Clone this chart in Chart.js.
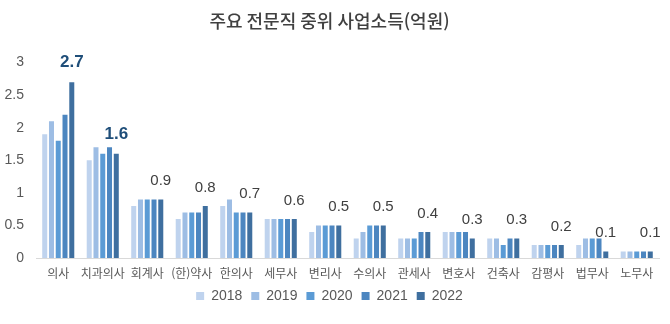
<!DOCTYPE html>
<html lang="ko">
<head>
    <meta charset="UTF-8">
    <title>주요 전문직 중위 사업소득</title>
    <script src="https://cdn.jsdelivr.net/npm/chart.js"></script>
    <style>
        body {
            margin: 0;
            background: #ffffff;
        }
        .wrap {
            width: 670px;
            height: 324px;
        }
    </style>
</head>
<body>
    <div class="wrap"><canvas id="incomeChart" width="670" height="324"></canvas></div>
    <script>
        const jobs = ['의사', '치과의사', '회계사', '(한)약사', '한의사', '세무사', '변리사', '수의사', '관세사', '변호사', '건축사', '감평사', '법무사', '노무사'];
        const years = ['2018', '2019', '2020', '2021', '2022'];
        const y2018 = [1.9, 1.5, 0.8, 0.6, 0.8, 0.6, 0.4, 0.3, 0.3, 0.4, 0.3, 0.2, 0.2, 0.1];
        const y2019 = [2.1, 1.7, 0.9, 0.7, 0.9, 0.6, 0.5, 0.4, 0.3, 0.4, 0.3, 0.2, 0.3, 0.1];
        const y2020 = [1.8, 1.6, 0.9, 0.7, 0.7, 0.6, 0.5, 0.5, 0.3, 0.4, 0.2, 0.2, 0.3, 0.1];
        const y2021 = [2.2, 1.7, 0.9, 0.7, 0.7, 0.6, 0.5, 0.5, 0.4, 0.4, 0.3, 0.2, 0.3, 0.1];
        const y2022 = [2.7, 1.6, 0.9, 0.8, 0.7, 0.6, 0.5, 0.5, 0.4, 0.3, 0.3, 0.2, 0.1, 0.1];
        const yTicks = [0, 0.5, 1, 1.5, 2, 2.5, 3];

        const colors = ['#bfd3ee', '#9dbde4', '#5b9bd5', '#4c86c0', '#3f6f9f'];
        const seriesData = [y2018, y2019, y2020, y2021, y2022];

        const fontFamily = "'Liberation Sans', 'Noto Sans CJK KR', sans-serif";

        // draw the 2022 value above the last bar of each group
        const lastValueLabels = {
            id: 'lastValueLabels',
            afterDatasetsDraw(chart) {
                const c = chart.ctx;
                const meta = chart.getDatasetMeta(4);
                c.save();
                c.textAlign = 'center';
                c.textBaseline = 'bottom';
                meta.data.forEach((bar, i) => {
                    const v = y2022[i];
                    if (i < 2) {
                        c.font = "bold 17px 'Liberation Sans', sans-serif";
                        c.fillStyle = '#1f4e79';
                    } else {
                        c.font = "15px 'Liberation Sans', sans-serif";
                        c.fillStyle = '#404040';
                    }
                    c.fillText(v.toFixed(1), bar.x, bar.y - 11);
                });
                c.restore();
            }
        };

        new Chart(document.getElementById('incomeChart'), {
            type: 'bar',
            data: {
                labels: jobs,
                datasets: years.map((yr, i) => ({
                    label: yr,
                    data: seriesData[i],
                    backgroundColor: colors[i],
                    categoryPercentage: 0.76,
                    barPercentage: 0.74
                }))
            },
            options: {
                responsive: false,
                animation: false,
                layout: {
                    padding: { left: 0, right: 11, top: 0, bottom: 11 }
                },
                plugins: {
                    title: {
                        display: true,
                        text: '주요 전문직 중위 사업소득(억원)',
                        color: '#404040',
                        font: { family: "'Noto Sans CJK KR', sans-serif", size: 18, weight: '500' },
                        padding: { top: 10, bottom: 31 }
                    },
                    legend: {
                        position: 'bottom',
                        labels: {
                            boxWidth: 8,
                            boxHeight: 8,
                            color: '#595959',
                            padding: 9,
                            font: { family: fontFamily, size: 14 }
                        }
                    },
                    tooltip: { enabled: false }
                },
                scales: {
                    x: {
                        grid: { display: false },
                        border: { color: '#d9d9d9' },
                        ticks: {
                            color: '#595959',
                            padding: 1,
                            maxRotation: 0,
                            autoSkip: false,
                            font: { family: "'Noto Sans CJK KR', sans-serif", size: 12, lineHeight: 1 }
                        }
                    },
                    y: {
                        min: 0,
                        max: 3,
                        afterBuildTicks(axis) {
                            axis.ticks = yTicks.map(v => ({ value: v }));
                        },
                        afterFit(axis) {
                            axis.width = 36;
                        },
                        grid: { display: false, drawTicks: false },
                        border: { display: false },
                        ticks: {
                            color: '#595959',
                            padding: 12,
                            callback: v => String(v),
                            font: { family: fontFamily, size: 14 }
                        }
                    }
                }
            },
            plugins: [lastValueLabels]
        });
    </script>
</body>
</html>
